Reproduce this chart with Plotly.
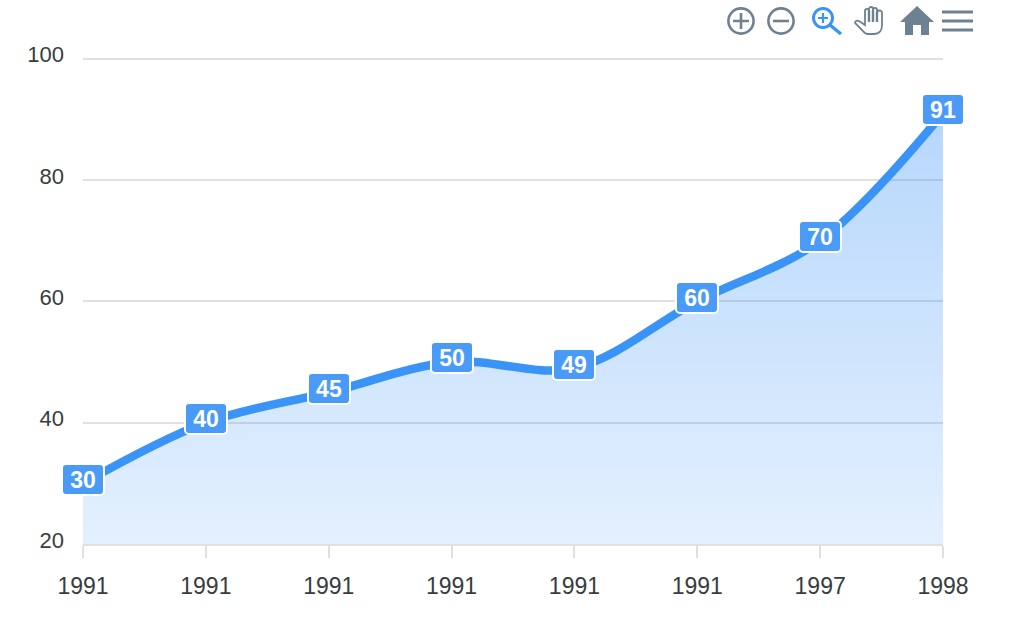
import base64
import plotly.graph_objects as go

# category positions, the labels repeat so they go in as ticktext
positions = [0, 1, 2, 3, 4, 5, 6, 7]
tick_labels = ["1991", "1991", "1991", "1991", "1991", "1991", "1997", "1998"]
values = [30, 40, 45, 50, 49, 60, 70, 91]
y_ticks = [20, 40, 60, 80, 100]

W, H = 1028, 622
BLUE = "#3a93f7"
GREY = "#6e8192"

# toolbar icons, drawn in page pixels from x=720
toolbar_svg = f"""<svg xmlns="http://www.w3.org/2000/svg" width="260" height="40" viewBox="720 0 260 40">
<g fill="none" stroke="{GREY}" stroke-width="2.6">
<circle cx="741" cy="21" r="12.6"/><path d="M733 21h16M741 13v16"/>
<circle cx="781" cy="21" r="12.6"/><path d="M773 21h16"/>
</g>
<g fill="none" stroke="{BLUE}" stroke-width="3">
<circle cx="823" cy="18" r="9.5"/><path d="M830 25l11 9" stroke-width="3.4"/>
<path d="M818 18h10M823 13v10" stroke-width="2.2"/>
</g>
<path d="M865 22v-11a2 2 0 0 1 4 0v-2a2 2 0 0 1 4 0v1a2 2 0 0 1 4 0v3a2 2 0 0 1 5 0v12
q0 9-8 9h-6q-3 0-5-3l-8-8q0-3 4-2l6 4z" fill="#fff" stroke="{GREY}" stroke-width="1.8"/>
<path d="M869 11v11M873 10v12M877 12v10" stroke="{GREY}" stroke-width="2.4"/>
<path d="M900 22l17-16 17 16h-5v13h-8v-10h-8v10h-8v-13z" fill="{GREY}"/>
<path d="M942 12h31M942 21h31M942 30h31" stroke="{GREY}" stroke-width="3"/>
</svg>"""
toolbar_uri = "data:image/svg+xml;base64," + base64.b64encode(toolbar_svg.encode()).decode()

L, R, T, B = 83, 85, 57, 78
plot_w = W - L - R
plot_h = H - T - B

fig = go.Figure()
fig.add_trace(go.Scatter(
    x=positions,
    y=values,
    mode="lines",
    line=dict(color=BLUE, width=8.5, shape="spline", smoothing=1.0),
    fill="tozeroy",
    fillgradient=dict(
        type="vertical",
        colorscale=[[0, "rgba(58,147,247,0.14)"], [1, "rgba(58,147,247,0.37)"]],
        start=20,
        stop=91,
    ),
    hoverinfo="skip",
    showlegend=False,
))

for x, v in zip(positions, values):
    fig.add_annotation(
        x=x, y=v, text=f"<b>{v}</b>", showarrow=False, yshift=4,
        width=38, height=27, bgcolor="#4a9bf8", bordercolor="#ffffff", borderwidth=2,
        font=dict(family="Liberation Sans", size=23, color="#ffffff"),
    )

fig.add_layout_image(
    source=toolbar_uri, xref="paper", yref="paper",
    x=(720 - L) / plot_w, y=1 + T / plot_h,
    sizex=260 / plot_w, sizey=40 / plot_h,
    xanchor="left", yanchor="top", sizing="stretch", layer="above",
)

fig.update_layout(
    width=W, height=H,
    margin=dict(l=L, r=R, t=T, b=B),
    paper_bgcolor="#ffffff",
    plot_bgcolor="#ffffff",
    font=dict(family="Liberation Sans", size=22, color="#373d3f"),
    xaxis=dict(
        range=[0, 7], tickmode="array", tickvals=positions, ticktext=tick_labels,
        showgrid=False, zeroline=False,
        showline=True, linecolor="#e0e0e0", linewidth=2,
        ticks="outside", ticklen=12, tickwidth=2, tickcolor="#e0e0e0",
        ticklabelstandoff=8, tickfont=dict(size=23),
    ),
    yaxis=dict(
        # plotly drops a gridline within 1px of the range end, so go a bit over 100
        range=[20, 100.25], tickmode="array", tickvals=y_ticks,
        showgrid=True, gridcolor="#e0e0e0", gridwidth=2, zeroline=False,
        ticks="", ticklabelstandoff=18, ticklabelshift=-4,
    ),
)

# page margin off so the 1028x622 figure sits at the window corner, rounded label boxes
round_js = """
document.body.style.margin = '0';
document.querySelectorAll('.annotation rect.bg').forEach(function (r) {
    r.setAttribute('rx', 4); r.setAttribute('ry', 4);
});
"""
fig.write_html("out.html", config={"displayModeBar": False}, post_script=round_js)
